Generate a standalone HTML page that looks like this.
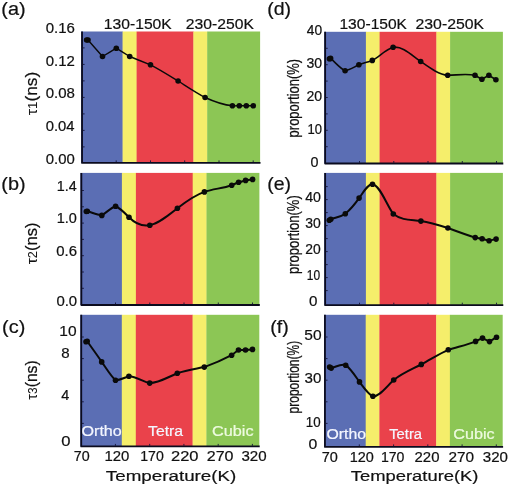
<!DOCTYPE html>
<html><head><meta charset="utf-8"><title>Figure</title>
<style>html,body{margin:0;padding:0;background:#fff}svg{display:block}text{font-family:'Liberation Sans', sans-serif;stroke-width:0.22px;vector-effect:non-scaling-stroke;stroke-linejoin:round}</style></head>
<body><svg width="520" height="493" viewBox="0 0 520 493">
<rect width="520" height="493" fill="#fff"/>
<g id="plots">
<rect x="81.1" y="31.5" width="41.8" height="131.4" fill="#5b6eb4"/>
<rect x="122.6" y="31.5" width="14.3" height="131.4" fill="#f5ee6b"/>
<rect x="136.6" y="31.5" width="57.1" height="131.4" fill="#ea424b"/>
<rect x="193.4" y="31.5" width="14.1" height="131.4" fill="#f5ee6b"/>
<rect x="207.2" y="31.5" width="52.9" height="131.4" fill="#8cc655"/>
<path d="M82.05 31.5V162.9H260.5" fill="none" stroke="#0b0b1e" stroke-width="1.8" stroke-linejoin="round"/>
<path d="M82.7 47.9h1.9M82.7 64.4h1.9M82.7 80.9h1.9M82.7 97.4h1.9M82.7 113.9h1.9M82.7 130.4h1.9M82.7 146.9h1.9M116.2 162.3v-1.9M150.5 162.3v-1.9M184.7 162.3v-1.9M219.0 162.3v-1.9M253.2 162.3v-1.9" stroke="#15153a" stroke-width="0.9" fill="none"/>
<path d="M88.0 40.0C92.8 45.5 97.7 51.0 102.5 56.5C107.1 53.7 111.7 51.0 116.3 48.2C120.8 51.0 125.2 53.7 129.7 56.5C136.6 59.3 143.6 62.1 150.5 64.8C159.7 69.5 168.9 75.3 178.1 81.0C187.1 86.7 196.1 92.8 205.1 97.5C214.2 101.7 223.3 104.9 232.4 105.8C234.7 105.9 237.0 105.8 239.3 105.8C241.6 105.8 244.0 105.8 246.3 105.8C248.6 105.8 251.0 105.8 253.3 105.8" fill="none" stroke="#0a0a0a" stroke-width="1.4" stroke-linejoin="round"/>
<g fill="#0a0a0a"><circle cx="88.0" cy="40.0" r="2.8"/><circle cx="102.5" cy="56.5" r="2.8"/><circle cx="116.3" cy="48.2" r="2.8"/><circle cx="129.7" cy="56.5" r="2.8"/><circle cx="150.5" cy="64.8" r="2.8"/><circle cx="178.1" cy="81.0" r="2.8"/><circle cx="205.1" cy="97.5" r="2.8"/><circle cx="232.4" cy="105.8" r="2.8"/><circle cx="239.3" cy="105.8" r="2.8"/><circle cx="246.3" cy="105.8" r="2.8"/><circle cx="253.3" cy="105.8" r="2.8"/><circle cx="86.6" cy="40.0" r="2.8"/></g>
<rect x="80.39999999999999" y="172.9" width="41.8" height="132.1" fill="#5b6eb4"/>
<rect x="121.89999999999999" y="172.9" width="14.3" height="132.1" fill="#f5ee6b"/>
<rect x="135.9" y="172.9" width="57.1" height="132.1" fill="#ea424b"/>
<rect x="192.70000000000002" y="172.9" width="14.1" height="132.1" fill="#f5ee6b"/>
<rect x="206.5" y="172.9" width="52.9" height="132.1" fill="#8cc655"/>
<path d="M81.35 172.9V305.0H259.8" fill="none" stroke="#0b0b1e" stroke-width="1.8" stroke-linejoin="round"/>
<path d="M82.0 190.5h1.9M82.0 206.8h1.9M82.0 223.1h1.9M82.0 239.4h1.9M82.0 255.7h1.9M82.0 272.0h1.9M82.0 288.3h1.9M115.5 304.4v-1.9M149.8 304.4v-1.9M184.0 304.4v-1.9M218.3 304.4v-1.9M252.5 304.4v-1.9" stroke="#15153a" stroke-width="0.9" fill="none"/>
<path d="M87.3 211.2C92.1 212.6 97.0 214.7 101.8 215.4C106.4 212.6 111.0 207.8 115.6 206.3C120.1 208.1 124.5 212.8 129.0 217.3C135.9 224.3 142.9 226.5 149.8 225.2C159.0 223.4 168.2 215.5 177.4 208.3C186.4 201.3 195.4 195.0 204.4 191.9C213.5 188.7 222.6 188.5 231.7 185.2C234.0 184.3 236.3 183.2 238.6 182.3C240.9 181.6 243.3 181.0 245.6 180.4C247.9 180.0 250.3 179.7 252.6 179.4" fill="none" stroke="#0a0a0a" stroke-width="2.0" stroke-linejoin="round"/>
<g fill="#0a0a0a"><circle cx="87.3" cy="211.2" r="2.8"/><circle cx="101.8" cy="215.4" r="2.8"/><circle cx="115.6" cy="206.3" r="2.8"/><circle cx="129.0" cy="217.3" r="2.8"/><circle cx="149.8" cy="225.2" r="2.8"/><circle cx="177.4" cy="208.3" r="2.8"/><circle cx="204.4" cy="191.9" r="2.8"/><circle cx="231.7" cy="185.2" r="2.8"/><circle cx="238.6" cy="182.3" r="2.8"/><circle cx="245.6" cy="180.4" r="2.8"/><circle cx="252.6" cy="179.4" r="2.8"/><circle cx="86.3" cy="211.5" r="2.8"/></g>
<rect x="80.3" y="314.8" width="41.8" height="131.6" fill="#5b6eb4"/>
<rect x="121.8" y="314.8" width="14.3" height="131.6" fill="#f5ee6b"/>
<rect x="135.79999999999998" y="314.8" width="57.1" height="131.6" fill="#ea424b"/>
<rect x="192.6" y="314.8" width="14.1" height="131.6" fill="#f5ee6b"/>
<rect x="206.39999999999998" y="314.8" width="52.9" height="131.6" fill="#8cc655"/>
<path d="M81.25 314.8V446.4H259.7" fill="none" stroke="#0b0b1e" stroke-width="1.8" stroke-linejoin="round"/>
<path d="M81.9 337.0h1.9M81.9 358.6h1.9M81.9 380.2h1.9M81.9 401.8h1.9M81.9 423.4h1.9M115.4 445.79999999999995v-1.9M149.7 445.79999999999995v-1.9M183.9 445.79999999999995v-1.9M218.2 445.79999999999995v-1.9M252.4 445.79999999999995v-1.9" stroke="#15153a" stroke-width="0.9" fill="none"/>
<path d="M87.2 341.3C92.0 348.2 96.9 354.7 101.7 361.9C106.3 368.4 110.9 376.2 115.5 380.2C120.0 380.5 124.4 377.5 128.9 376.3C135.8 376.6 142.8 381.3 149.7 383.1C158.9 383.0 168.1 377.0 177.3 373.3C186.3 370.2 195.3 369.0 204.3 367.1C213.4 363.9 222.5 360.0 231.6 355.2C233.9 353.4 236.2 351.6 238.5 350.0C240.8 349.8 243.2 350.0 245.5 350.0C247.8 349.8 250.2 349.6 252.5 349.4" fill="none" stroke="#0a0a0a" stroke-width="2.0" stroke-linejoin="round"/>
<g fill="#0a0a0a"><circle cx="87.2" cy="341.3" r="2.8"/><circle cx="101.7" cy="361.9" r="2.8"/><circle cx="115.5" cy="380.2" r="2.8"/><circle cx="128.9" cy="376.3" r="2.8"/><circle cx="149.7" cy="383.1" r="2.8"/><circle cx="177.3" cy="373.3" r="2.8"/><circle cx="204.3" cy="367.1" r="2.8"/><circle cx="231.6" cy="355.2" r="2.8"/><circle cx="238.5" cy="350.0" r="2.8"/><circle cx="245.5" cy="350.0" r="2.8"/><circle cx="252.5" cy="349.4" r="2.8"/><circle cx="86.0" cy="341.7" r="2.8"/></g>
<rect x="324.2" y="31.8" width="42.0" height="131.7" fill="#5b6eb4"/>
<rect x="365.9" y="31.8" width="14.0" height="131.7" fill="#f5ee6b"/>
<rect x="379.6" y="31.8" width="57.1" height="131.7" fill="#ea424b"/>
<rect x="436.4" y="31.8" width="14.0" height="131.7" fill="#f5ee6b"/>
<rect x="450.1" y="31.8" width="52.8" height="131.7" fill="#8cc655"/>
<path d="M325.15 31.8V163.5H503.3" fill="none" stroke="#0b0b1e" stroke-width="1.8" stroke-linejoin="round"/>
<path d="M325.8 48.3h1.9M325.8 64.7h1.9M325.8 81.1h1.9M325.8 97.5h1.9M325.8 113.9h1.9M325.8 130.3h1.9M325.8 146.7h1.9M359.5 162.9v-1.9M393.8 162.9v-1.9M428.0 162.9v-1.9M462.3 162.9v-1.9M496.5 162.9v-1.9" stroke="#15153a" stroke-width="0.9" fill="none"/>
<path d="M330.6 58.4C335.4 62.5 340.3 68.7 345.1 70.7C349.7 70.2 354.3 66.9 358.9 64.8C363.4 63.0 367.8 62.2 372.3 60.4C379.2 56.6 386.2 49.3 393.1 47.3C402.3 45.7 411.5 55.0 420.7 61.5C429.7 67.8 438.7 74.5 447.7 75.3C456.8 75.2 465.9 73.3 475.0 75.3C477.3 76.7 479.6 78.0 481.9 79.3C484.2 78.0 486.6 76.6 488.9 75.3C491.2 76.8 493.6 78.2 495.9 79.7" fill="none" stroke="#0a0a0a" stroke-width="1.6" stroke-linejoin="round"/>
<g fill="#0a0a0a"><circle cx="330.6" cy="58.4" r="2.8"/><circle cx="345.1" cy="70.7" r="2.8"/><circle cx="358.9" cy="64.8" r="2.8"/><circle cx="372.3" cy="60.4" r="2.8"/><circle cx="393.1" cy="47.3" r="2.8"/><circle cx="420.7" cy="61.5" r="2.8"/><circle cx="447.7" cy="75.3" r="2.8"/><circle cx="475.0" cy="75.3" r="2.8"/><circle cx="481.9" cy="79.3" r="2.8"/><circle cx="488.9" cy="75.3" r="2.8"/><circle cx="495.9" cy="79.7" r="2.8"/><circle cx="329.4" cy="58.7" r="2.8"/></g>
<rect x="324.2" y="172.9" width="42.0" height="132.3" fill="#5b6eb4"/>
<rect x="365.9" y="172.9" width="14.0" height="132.3" fill="#f5ee6b"/>
<rect x="379.6" y="172.9" width="57.1" height="132.3" fill="#ea424b"/>
<rect x="436.4" y="172.9" width="14.0" height="132.3" fill="#f5ee6b"/>
<rect x="450.1" y="172.9" width="52.8" height="132.3" fill="#8cc655"/>
<path d="M325.15 172.9V305.2H503.3" fill="none" stroke="#0b0b1e" stroke-width="1.8" stroke-linejoin="round"/>
<path d="M325.8 186.6h1.9M325.8 199.6h1.9M325.8 212.6h1.9M325.8 225.6h1.9M325.8 238.6h1.9M325.8 251.6h1.9M325.8 264.6h1.9M325.8 277.6h1.9M325.8 290.6h1.9M359.5 304.59999999999997v-1.9M393.8 304.59999999999997v-1.9M428.0 304.59999999999997v-1.9M462.3 304.59999999999997v-1.9M496.5 304.59999999999997v-1.9" stroke="#15153a" stroke-width="0.9" fill="none"/>
<path d="M330.8 219.3C335.6 217.5 340.5 216.8 345.3 213.8C349.9 209.9 354.5 204.6 359.1 198.1C363.6 191.9 368.0 183.9 372.5 184.2C379.4 184.7 386.4 204.2 393.3 214.0C402.5 221.0 411.7 219.6 420.9 221.1C429.9 222.5 438.9 225.2 447.9 228.0C457.0 231.4 466.1 234.8 475.2 237.6C477.5 238.0 479.8 238.3 482.1 238.7C484.4 239.4 486.8 240.0 489.1 240.7C491.4 240.2 493.8 239.6 496.1 239.1" fill="none" stroke="#0a0a0a" stroke-width="2.0" stroke-linejoin="round"/>
<g fill="#0a0a0a"><circle cx="330.8" cy="219.3" r="2.8"/><circle cx="345.3" cy="213.8" r="2.8"/><circle cx="359.1" cy="198.1" r="2.8"/><circle cx="372.5" cy="184.2" r="2.8"/><circle cx="393.3" cy="214.0" r="2.8"/><circle cx="420.9" cy="221.1" r="2.8"/><circle cx="447.9" cy="228.0" r="2.8"/><circle cx="475.2" cy="237.6" r="2.8"/><circle cx="482.1" cy="238.7" r="2.8"/><circle cx="489.1" cy="240.7" r="2.8"/><circle cx="496.1" cy="239.1" r="2.8"/><circle cx="329.3" cy="220.3" r="2.8"/></g>
<rect x="324.0" y="314.8" width="42.0" height="132.1" fill="#5b6eb4"/>
<rect x="365.7" y="314.8" width="14.0" height="132.1" fill="#f5ee6b"/>
<rect x="379.40000000000003" y="314.8" width="57.1" height="132.1" fill="#ea424b"/>
<rect x="436.2" y="314.8" width="14.0" height="132.1" fill="#f5ee6b"/>
<rect x="449.90000000000003" y="314.8" width="52.8" height="132.1" fill="#8cc655"/>
<path d="M324.95 314.8V446.9H503.1" fill="none" stroke="#0b0b1e" stroke-width="1.8" stroke-linejoin="round"/>
<path d="M325.6 337.0h1.9M325.6 358.6h1.9M325.6 380.2h1.9M325.6 401.8h1.9M325.6 423.4h1.9M359.3 446.29999999999995v-1.9M393.6 446.29999999999995v-1.9M427.8 446.29999999999995v-1.9M462.1 446.29999999999995v-1.9M496.3 446.29999999999995v-1.9" stroke="#15153a" stroke-width="0.9" fill="none"/>
<path d="M331.2 368.1C336.0 367.1 340.9 363.3 345.7 365.2C350.3 368.3 354.9 375.5 359.5 381.9C364.0 387.9 368.4 394.4 372.9 396.3C379.8 396.6 386.8 386.2 393.7 380.0C402.9 372.8 412.1 369.3 421.3 364.4C430.3 359.7 439.3 353.6 448.3 349.8C457.4 346.8 466.5 345.3 475.6 341.4C477.9 340.2 480.2 339.2 482.5 338.1C484.8 339.3 487.2 340.4 489.5 341.6C491.8 340.1 494.2 338.7 496.5 337.2" fill="none" stroke="#0a0a0a" stroke-width="2.0" stroke-linejoin="round"/>
<g fill="#0a0a0a"><circle cx="331.2" cy="368.1" r="2.8"/><circle cx="345.7" cy="365.2" r="2.8"/><circle cx="359.5" cy="381.9" r="2.8"/><circle cx="372.9" cy="396.3" r="2.8"/><circle cx="393.7" cy="380.0" r="2.8"/><circle cx="421.3" cy="364.4" r="2.8"/><circle cx="448.3" cy="349.8" r="2.8"/><circle cx="475.6" cy="341.4" r="2.8"/><circle cx="482.5" cy="338.1" r="2.8"/><circle cx="489.5" cy="341.6" r="2.8"/><circle cx="496.5" cy="337.2" r="2.8"/><circle cx="329.6" cy="367.1" r="2.8"/></g>
</g>
<g id="labels">
<text transform="translate(1.32 14.94) scale(0.1989 0.1785)" font-size="100" fill="#111" stroke="#111">(a)</text>
<text transform="translate(1.32 190.16) scale(0.1989 0.1870)" font-size="100" fill="#111" stroke="#111">(b)</text>
<text transform="translate(2.12 333.43) scale(0.1988 0.1838)" font-size="100" fill="#111" stroke="#111">(c)</text>
<text transform="translate(267.14 15.17) scale(0.1953 0.1817)" font-size="100" fill="#111" stroke="#111">(d)</text>
<text transform="translate(267.14 189.93) scale(0.1953 0.1838)" font-size="100" fill="#111" stroke="#111">(e)</text>
<text transform="translate(270.23 333.43) scale(0.1961 0.1838)" font-size="100" fill="#111" stroke="#111">(f)</text>
<text transform="translate(103.86 29.44) scale(0.1566 0.1546)" font-size="100" fill="#111" stroke="#111">130-150K</text>
<text transform="translate(185.82 29.44) scale(0.1571 0.1546)" font-size="100" fill="#111" stroke="#111">230-250K</text>
<text transform="translate(339.46 29.44) scale(0.1558 0.1546)" font-size="100" fill="#111" stroke="#111">130-150K</text>
<text transform="translate(415.52 29.44) scale(0.1583 0.1546)" font-size="100" fill="#111" stroke="#111">230-250K</text>
<text transform="translate(45.71 32.55) scale(0.1499 0.1448)" font-size="100" fill="#111" stroke="#111">0.16</text>
<text transform="translate(45.71 65.55) scale(0.1499 0.1448)" font-size="100" fill="#111" stroke="#111">0.12</text>
<text transform="translate(45.71 98.25) scale(0.1499 0.1448)" font-size="100" fill="#111" stroke="#111">0.08</text>
<text transform="translate(45.72 130.85) scale(0.1483 0.1448)" font-size="100" fill="#111" stroke="#111">0.04</text>
<text transform="translate(45.71 163.55) scale(0.1491 0.1448)" font-size="100" fill="#111" stroke="#111">0.00</text>
<text transform="translate(56.76 191.09) scale(0.1436 0.1490)" font-size="100" fill="#111" stroke="#111">1.4</text>
<text transform="translate(56.75 223.45) scale(0.1447 0.1448)" font-size="100" fill="#111" stroke="#111">1.0</text>
<text transform="translate(56.31 256.15) scale(0.1495 0.1448)" font-size="100" fill="#111" stroke="#111">0.6</text>
<text transform="translate(56.41 305.65) scale(0.1495 0.1448)" font-size="100" fill="#111" stroke="#111">0.0</text>
<text transform="translate(59.27 335.65) scale(0.1554 0.1448)" font-size="100" fill="#111" stroke="#111">10</text>
<text transform="translate(61.21 358.15) scale(0.1506 0.1448)" font-size="100" fill="#111" stroke="#111">8</text>
<text transform="translate(61.22 399.94) scale(0.1447 0.1512)" font-size="100" fill="#111" stroke="#111">4</text>
<text transform="translate(61.25 446.45) scale(0.1662 0.1448)" font-size="100" fill="#111" stroke="#111">0</text>
<text transform="translate(306.83 35.25) scale(0.1379 0.1448)" font-size="100" fill="#111" stroke="#111">40</text>
<text transform="translate(306.55 68.35) scale(0.1406 0.1448)" font-size="100" fill="#111" stroke="#111">30</text>
<text transform="translate(306.41 101.05) scale(0.1410 0.1448)" font-size="100" fill="#111" stroke="#111">20</text>
<text transform="translate(307.57 133.95) scale(0.1301 0.1448)" font-size="100" fill="#111" stroke="#111">10</text>
<text transform="translate(310.44 166.65) scale(0.1433 0.1448)" font-size="100" fill="#111" stroke="#111">0</text>
<text transform="translate(305.23 201.85) scale(0.1417 0.1448)" font-size="100" fill="#111" stroke="#111">40</text>
<text transform="translate(305.25 227.65) scale(0.1396 0.1448)" font-size="100" fill="#111" stroke="#111">30</text>
<text transform="translate(305.21 253.55) scale(0.1390 0.1448)" font-size="100" fill="#111" stroke="#111">20</text>
<text transform="translate(306.75 279.55) scale(0.1200 0.1448)" font-size="100" fill="#111" stroke="#111">10</text>
<text transform="translate(308.90 305.55) scale(0.1517 0.1448)" font-size="100" fill="#111" stroke="#111">0</text>
<text transform="translate(304.29 340.05) scale(0.1551 0.1448)" font-size="100" fill="#111" stroke="#111">50</text>
<text transform="translate(304.50 382.55) scale(0.1513 0.1448)" font-size="100" fill="#111" stroke="#111">30</text>
<text transform="translate(305.74 427.35) scale(0.1331 0.1448)" font-size="100" fill="#111" stroke="#111">10</text>
<text transform="translate(308.48 449.15) scale(0.1579 0.1448)" font-size="100" fill="#111" stroke="#111">0</text>
<text transform="translate(73.80 461.45) scale(0.1429 0.1448)" font-size="100" fill="#111" stroke="#111">70</text>
<text transform="translate(104.51 461.45) scale(0.1495 0.1448)" font-size="100" fill="#111" stroke="#111">120</text>
<text transform="translate(140.18 461.45) scale(0.1412 0.1448)" font-size="100" fill="#111" stroke="#111">170</text>
<text transform="translate(170.98 461.45) scale(0.1651 0.1448)" font-size="100" fill="#111" stroke="#111">220</text>
<text transform="translate(206.71 461.45) scale(0.1606 0.1448)" font-size="100" fill="#111" stroke="#111">270</text>
<text transform="translate(241.41 461.45) scale(0.1508 0.1448)" font-size="100" fill="#111" stroke="#111">320</text>
<text transform="translate(321.79 462.15) scale(0.1449 0.1448)" font-size="100" fill="#111" stroke="#111">70</text>
<text transform="translate(349.75 462.15) scale(0.1444 0.1448)" font-size="100" fill="#111" stroke="#111">120</text>
<text transform="translate(380.88 462.15) scale(0.1412 0.1448)" font-size="100" fill="#111" stroke="#111">170</text>
<text transform="translate(414.56 462.15) scale(0.1492 0.1448)" font-size="100" fill="#111" stroke="#111">220</text>
<text transform="translate(448.44 462.15) scale(0.1537 0.1448)" font-size="100" fill="#111" stroke="#111">270</text>
<text transform="translate(482.81 462.15) scale(0.1508 0.1448)" font-size="100" fill="#111" stroke="#111">320</text>
<text transform="translate(105.83 481.23) scale(0.1880 0.1551)" font-size="100" fill="#111" stroke="#111">Temperature(K)</text>
<text transform="translate(350.84 481.23) scale(0.1838 0.1551)" font-size="100" fill="#111" stroke="#111">Temperature(K)</text>
<text transform="translate(81.50 436.25) scale(0.1613 0.1416)" font-size="100" fill="#f4f6ff" stroke="#f4f6ff">Ortho</text>
<text transform="translate(148.09 436.24) scale(0.1576 0.1469)" font-size="100" fill="#f4f6ff" stroke="#f4f6ff">Tetra</text>
<text transform="translate(212.00 436.34) scale(0.1628 0.1457)" font-size="100" fill="#eefbe0" stroke="#eefbe0">Cubic</text>
<text transform="translate(326.52 439.05) scale(0.1584 0.1416)" font-size="100" fill="#f4f6ff" stroke="#f4f6ff">Ortho</text>
<text transform="translate(389.21 439.04) scale(0.1476 0.1469)" font-size="100" fill="#f4f6ff" stroke="#f4f6ff">Tetra</text>
<text transform="translate(453.30 439.14) scale(0.1620 0.1457)" font-size="100" fill="#eefbe0" stroke="#eefbe0">Cubic</text>
<text transform="translate(37.26 115.16) rotate(-90) scale(0.1729 0.1679)" font-size="100" fill="#111" stroke="#111"><tspan font-size="92">τ</tspan><tspan font-size="76">1</tspan>(ns)</text>
<text transform="translate(37.26 264.16) rotate(-90) scale(0.1659 0.1679)" font-size="100" fill="#111" stroke="#111"><tspan font-size="92">τ</tspan><tspan font-size="76">2</tspan>(ns)</text>
<text transform="translate(37.26 399.65) rotate(-90) scale(0.1569 0.1679)" font-size="100" fill="#111" stroke="#111"><tspan font-size="92">τ</tspan><tspan font-size="76">3</tspan>(ns)</text>
<text transform="translate(298.59 137.40) rotate(-90) scale(0.1298 0.1668)" font-size="100" fill="#111" stroke="#111">proportion(%)</text>
<text transform="translate(298.59 274.10) rotate(-90) scale(0.1302 0.1668)" font-size="100" fill="#111" stroke="#111">proportion(%)</text>
<text transform="translate(298.56 413.43) rotate(-90) scale(0.1199 0.1679)" font-size="100" fill="#111" stroke="#111">proportion(%)</text>
</g>
</svg></body></html>
